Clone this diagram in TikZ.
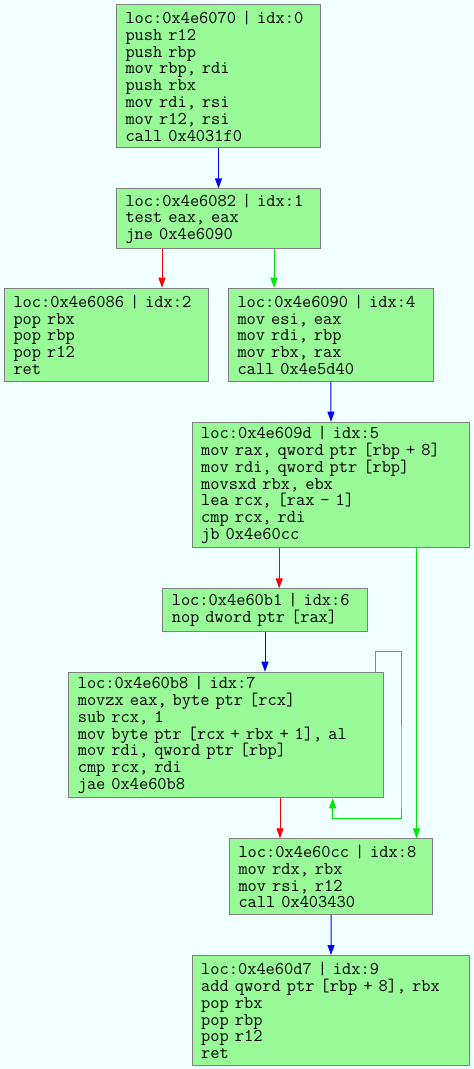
\documentclass[tikz,border=0pt]{standalone}
\usepackage{fontspec}
\usetikzlibrary{arrows.meta}
\definecolor{bgc}{HTML}{F0FFFF}
\definecolor{boxfill}{HTML}{98FB98}
\definecolor{boxline}{HTML}{808080}
\definecolor{eblue}{HTML}{0000FF}
\definecolor{ered}{HTML}{FF0000}
\definecolor{egreen}{HTML}{00E600}
\tikzset{
  blk/.style={draw=boxline, fill=boxfill, line width=1pt, anchor=north west,
    inner xsep=9pt, inner ysep=0pt, align=left,
    font=\ttfamily\fontsize{17.9}{16.8}\selectfont, text=black},
  edge/.style={line width=1pt, -{Triangle[length=10pt,width=7pt]}},
  tedge/.style={edge, ered},
  fedge/.style={edge, egreen},
  uedge/.style={edge, eblue}
}
\begin{document}
\begin{tikzpicture}[x=1pt,y=-1pt]
\fill[bgc] (0,0) rectangle (474,1069);
\useasboundingbox (0,0) rectangle (474,1069);

\node[blk, text width=186pt, minimum height=143.3pt] (n0) at (116,4)
 {loc:0x4e6070 | idx:0\\push r12\\push rbp\\mov rbp, rdi\\push rbx\\mov rdi, rsi\\mov r12, rsi\\call 0x4031f0};
\node[blk, text width=186pt, minimum height=59.7pt] (n1) at (116,188.3)
 {loc:0x4e6082 | idx:1\\test eax, eax\\jne 0x4e6090};
\node[blk, text width=186pt, minimum height=93pt] (n2) at (4,287.7)
 {loc:0x4e6086 | idx:2\\pop rbx\\pop rbp\\pop r12\\ret};
\node[blk, text width=186.7pt, minimum height=93pt] (n4) at (228,287.7)
 {loc:0x4e6090 | idx:4\\mov esi, eax\\mov rdi, rbp\\mov rbx, rax\\call 0x4e5d40};
\node[blk, text width=259.6pt, minimum height=125.6pt] (n5) at (191.7,421.7)
 {loc:0x4e609d | idx:5\\mov rax, qword ptr [rbp + 8]\\mov rdi, qword ptr [rbp]\\movsxd rbx, ebx\\lea rcx, [rax - 1]\\cmp rcx, rdi\\jb 0x4e60cc};
\node[blk, text width=186.4pt, minimum height=42.4pt] (n6) at (162.3,588.3)
 {loc:0x4e60b1 | idx:6\\nop dword ptr [rax]};
\node[blk, text width=297pt, minimum height=125.6pt] (n7) at (68.3,671.7)
 {loc:0x4e60b8 | idx:7\\movzx eax, byte ptr [rcx]\\sub rcx, 1\\mov byte ptr [rcx + rbx + 1], al\\mov rdi, qword ptr [rbp]\\cmp rcx, rdi\\jae 0x4e60b8};
\node[blk, text width=185.3pt, minimum height=75.7pt] (n8) at (229,838.3)
 {loc:0x4e60cc | idx:8\\mov rdx, rbx\\mov rsi, r12\\call 0x403430};
\node[blk, text width=259.6pt, minimum height=110pt] (n9) at (191.7,955)
 {loc:0x4e60d7 | idx:9\\add qword ptr [rbp + 8], rbx\\pop rbx\\pop rbp\\pop r12\\ret};

\draw[uedge] (n0.south) -- (n1.north);
\draw[tedge] ([xshift=46pt]n1.south west) -- ([xshift=46pt]n1.south west |- n2.north);
\draw[fedge] ([xshift=158pt]n1.south west) -- ([xshift=158pt]n1.south west |- n4.north);
\draw[uedge] (n4.south) -- (n5.north);
\draw[tedge] ([xshift=87.5pt]n5.south west) -- ([xshift=87.5pt]n5.south west |- n6.north);
\draw[fedge] ([xshift=224.8pt]n5.south west) -- ([xshift=224.8pt]n5.south west |- n8.north);
\draw[uedge] (n6.south) -- (n6.south |- n7.north);
\draw[fedge] ([xshift=306.7pt]n7.north west) -- ++(0,-20.7) -| ([xshift=16.7pt]n7.south east) |- ([xshift=-51.6pt,yshift=-20.4pt]n7.south east) -- ([xshift=-51.6pt]n7.south east);
\draw[tedge] ([xshift=211.7pt]n7.south west) -- ([xshift=211.7pt]n7.south west |- n8.north);
\draw[uedge] (n8.south) -- (n9.north);
\end{tikzpicture}
\end{document}
